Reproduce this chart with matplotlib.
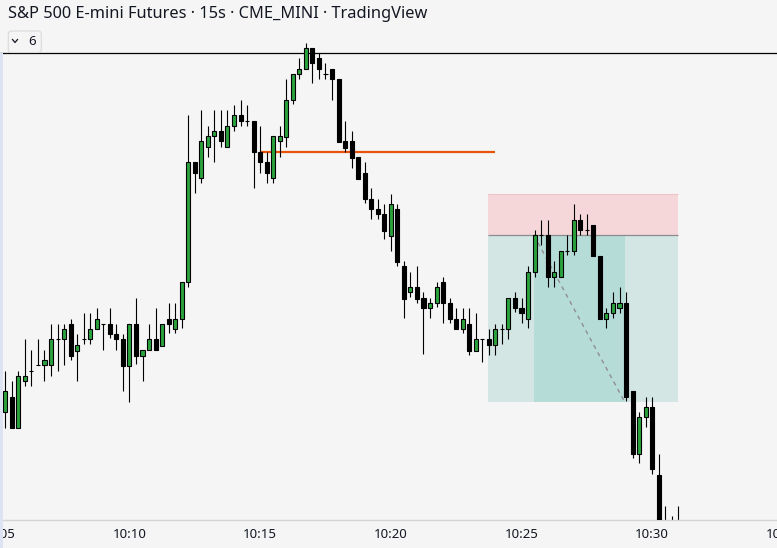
import numpy as np
import matplotlib
matplotlib.use("Agg")
import matplotlib.pyplot as plt
import matplotlib.transforms as mtransforms
from matplotlib.patches import Rectangle, FancyBboxPatch
from matplotlib.lines import Line2D

plt.rcParams["font.family"] = ["Noto Sans", "DejaVu Sans"]

TITLE = "S&P 500 E-mini Futures · 15s · CME_MINI · TradingView"

REF_PRICE = 5342.0
STEP = 0.05

open_steps = [402, 412, 397, 428, 381, 371, 365, 365, 365, 339,
              339, 324, 351, 339, 339, 329, 324, 324, 334, 339,
              366, 324, 356, 350, 339, 346, 319, 329, 319, 282,
              162, 178, 147, 136, 131, 147, 126, 115, 121, 121,
              152, 162, 178, 141, 137, 100, 74, 69, 48, 58,
              74, 69, 79, 141, 141, 157, 173, 199, 209, 214,
              236, 209, 266, 292, 287, 298, 308, 303, 282, 303,
              319, 329, 324, 351, 339, 339, 345, 329, 329, 298,
              308, 319, 272, 235, 235, 277, 277, 251, 251, 220,
              230, 225, 256, 319, 313, 308, 303, 391, 454, 417,
              407, 475, 530, 528, 530]
high_steps = [398, 371, 381, 371, 339, 350, 339, 350, 324, 324,
              324, 319, 334, 313, 313, 308, 324, 308, 324, 334,
              324, 298, 350, 324, 308, 324, 303, 303, 282, 115,
              162, 110, 126, 110, 110, 110, 105, 100, 105, 121,
              126, 152, 136, 126, 79, 74, 58, 43, 48, 53,
              63, 69, 79, 121, 131, 157, 162, 188, 199, 204,
              194, 204, 261, 272, 266, 292, 298, 282, 277, 298,
              308, 308, 308, 313, 339, 329, 324, 324, 298, 292,
              298, 266, 230, 220, 220, 261, 251, 235, 204, 214,
              214, 225, 256, 308, 292, 287, 292, 391, 412, 397,
              397, 454, 506, 516, 506]
low_steps = [410, 428, 428, 428, 386, 386, 365, 381, 376, 371,
             365, 360, 381, 344, 344, 329, 350, 338, 350, 391,
             402, 364, 381, 350, 350, 346, 333, 333, 328, 287,
             193, 183, 157, 162, 147, 147, 131, 126, 126, 188,
             173, 183, 183, 157, 147, 104, 79, 69, 83, 79,
             79, 100, 142, 152, 168, 179, 203, 219, 219, 239,
             251, 266, 318, 297, 303, 354, 318, 307, 323, 323,
             329, 333, 355, 351, 362, 355, 355, 344, 339, 312,
             323, 328, 277, 245, 287, 287, 277, 255, 255, 235,
             235, 256, 319, 328, 318, 313, 401, 458, 463, 427,
             474, 545, 550, 545, 550]
close_steps = [407, 391, 428, 376, 376, 371, 365, 360, 339, 339,
               329, 356, 345, 339, 329, 319, 324, 334, 339, 366,
               324, 356, 350, 339, 350, 324, 324, 319, 282, 162,
               173, 141, 136, 131, 141, 126, 115, 121, 121, 152,
               162, 173, 136, 136, 100, 74, 69, 48, 63, 69,
               74, 79, 142, 148, 158, 179, 199, 209, 214, 231,
               204, 262, 299, 287, 299, 308, 303, 287, 303, 319,
               329, 319, 351, 339, 339, 345, 329, 329, 298, 308,
               313, 272, 235, 235, 277, 272, 251, 251, 220, 230,
               230, 256, 319, 313, 303, 303, 397, 454, 417, 407,
               469, 540, 545, 540, 545]

# time axis: one label every 20 bars (5 minutes)
label_bars = [0, 20, 40, 60, 80, 100, 120]
time_labels = ["10:05", "10:10", "10:15", "10:20", "10:25", "10:30", "10:35"]

# drawings (levels in the same steps, positions in bars)
top_line_level = 53
orange_level = 152
orange_bars = (40, 75.9)
pos_bars = (74.86, 103.94)
pos_stop, pos_entry, pos_target = 194, 235.3, 402.3
trade_bars = (81.9, 95.8)
trade_exit = 402.0

GREEN = "#2ba33d"
BG = "#f5f5f5"


def px(steps):
    return REF_PRICE - np.asarray(steps, dtype=float) * STEP


o = px(open_steps)
h = px(high_steps)
l = px(low_steps)
c = px(close_steps)
x = np.arange(len(o))

fig = plt.figure(figsize=(7.77, 5.48), dpi=100, facecolor=BG)
ax = fig.add_axes([0, 28 / 548, 1, 520 / 548])
ax.set_facecolor(BG)
ax.set_xlim(0.19, 119.1)
ax.set_ylim(REF_PRICE - 520 * STEP, REF_PRICE)

# position tool
ax.add_patch(Rectangle((pos_bars[0], px(pos_entry)), pos_bars[1] - pos_bars[0],
                       (pos_entry - pos_stop) * STEP, facecolor="#f5d7da",
                       edgecolor="none", zorder=1))
ax.hlines(px(pos_stop), pos_bars[0], pos_bars[1], color="#f0c3c8", lw=0.8, zorder=1)
ax.add_patch(Rectangle((pos_bars[0], px(pos_target)), pos_bars[1] - pos_bars[0],
                       (pos_target - pos_entry) * STEP, facecolor="#d3e6e4",
                       edgecolor="none", zorder=1))
ax.add_patch(Rectangle((trade_bars[0], px(trade_exit)), trade_bars[1] - trade_bars[0],
                       (trade_exit - pos_entry) * STEP, facecolor="#b6dcd8",
                       edgecolor="none", zorder=1.2))
ax.hlines(px(pos_entry), pos_bars[0], pos_bars[1], color="#8c8c8c", lw=0.9, zorder=1.5)
ax.plot(trade_bars, px([pos_entry, trade_exit]), color="#8f8f8f", lw=1.0,
        linestyle=(0, (3, 3)), zorder=1.6)

# horizontal lines
ax.axhline(px(top_line_level), color="black", lw=0.9, zorder=1.5)
ax.hlines(px(orange_level), orange_bars[0], orange_bars[1], color="#e8530a", lw=1.6, zorder=1.7)

# candles
up = c > o
body_lo = np.minimum(o, c)
body_h = np.abs(c - o)
ax.vlines(x, l, h, color="black", lw=0.8, zorder=2)
ax.bar(x, body_h, bottom=body_lo, width=0.62,
       color=np.where(up, GREEN, "black"), edgecolor="black", linewidth=0.8, zorder=3)

for s in ["top", "left", "right"]:
    ax.spines[s].set_visible(False)
ax.spines["bottom"].set_color("#d4d4d4")
ax.spines["bottom"].set_linewidth(1.0)
ax.set_xticks([])
ax.set_yticks([])

tr = mtransforms.blended_transform_factory(ax.transData, ax.transAxes)
for b, lbl in zip(label_bars, time_labels):
    ax.text(b, -15 / 520, lbl, transform=tr, ha="center", va="center", fontsize=9.5,
            color="#131722", fontweight="bold" if lbl == "10:30" else "normal", clip_on=False)

# left toolbar edge
fig.patches.append(Rectangle((0, 0), 0.027, (548 - 53) / 100, transform=fig.dpi_scale_trans,
                             facecolor="#dde3f3", edgecolor="none"))

# legend header
fig.text(8 / 777, 1 - 14 / 548, TITLE, ha="left", va="center", fontsize=11.8, color="#131722")
fig.patches.append(FancyBboxPatch((0.083, (548 - 52.5) / 100), 0.33, 0.215,
                                  boxstyle="round,pad=0,rounding_size=0.03",
                                  transform=fig.dpi_scale_trans, facecolor=BG,
                                  edgecolor="#d9d9d9", linewidth=0.8))
fig.lines.append(Line2D([0.125, 0.15, 0.175], [(548 - 39.5) / 100, (548 - 42.5) / 100, (548 - 39.5) / 100],
                        transform=fig.dpi_scale_trans, color="#131722", lw=0.9))
fig.text(0.32, (548 - 41.5) / 100, "6", transform=fig.dpi_scale_trans, ha="center",
         va="center", fontsize=9.5, color="#131722")

fig.savefig("out.png", dpi=100, facecolor=BG)
